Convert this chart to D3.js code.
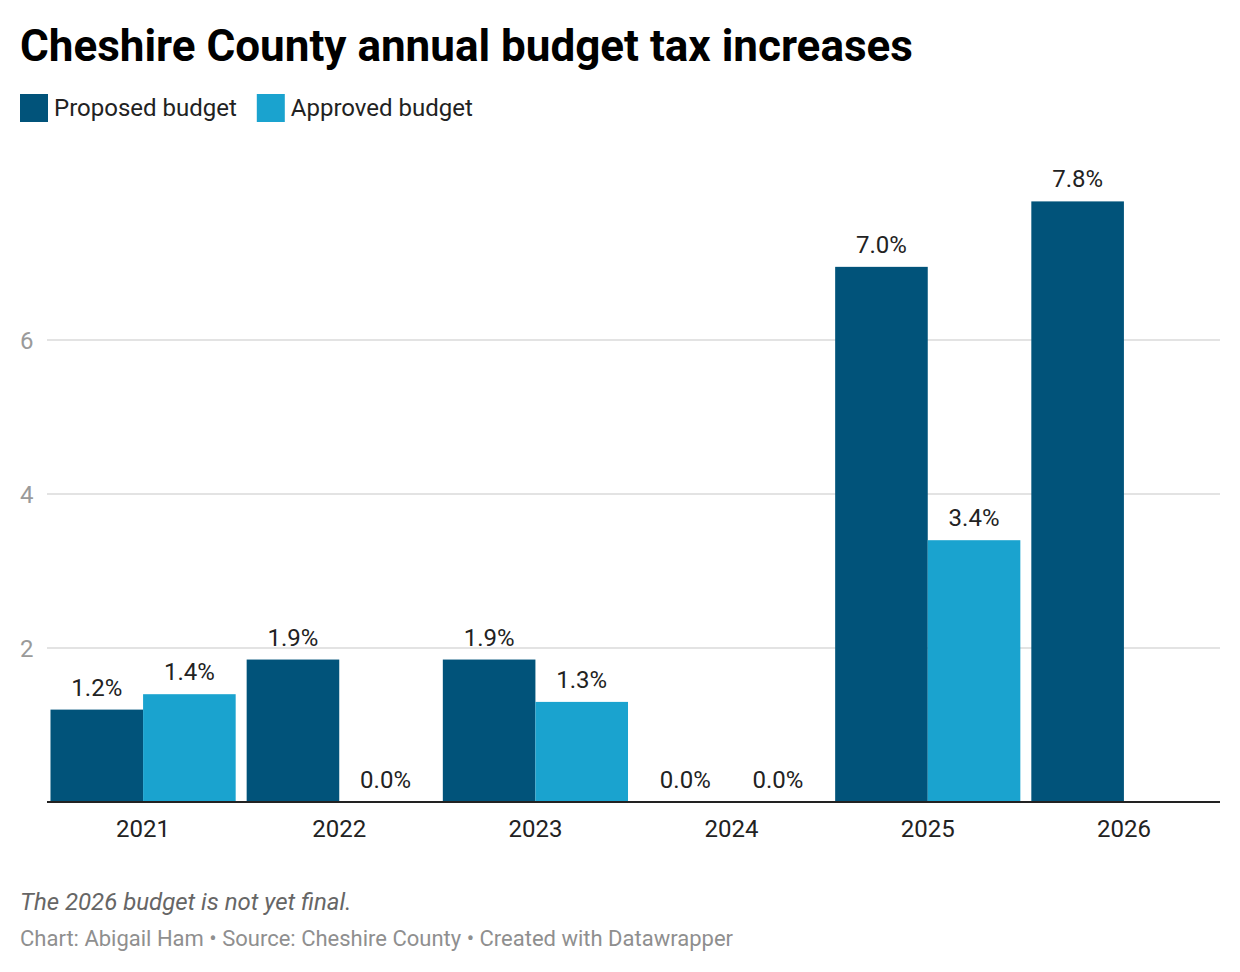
<!DOCTYPE html>
<html><head><meta charset="utf-8">
<script src="https://cdn.jsdelivr.net/npm/d3@7"></script>
<style>
body{margin:0;background:#fff;}
svg{display:block;font-family:Roboto, sans-serif;}
</style></head>
<body>
<script>
const years = ["2021","2022","2023","2024","2025","2026"];
const proposed = [1.2, 1.85, 1.85, 0, 6.95, 7.8];
const approved = [1.4, 0, 1.3, 0, 3.4, null];
const seriesNames = ["Proposed budget","Approved budget"];
const colors = ["#01537a","#1aa3cf"];
const yTicks = [2,4,6];
const title = "Cheshire County annual budget tax increases";
const note = "The 2026 budget is not yet final.";
const source = "Chart: Abigail Ham • Source: Cheshire County • Created with Datawrapper";

const W = 1240, H = 972;
const svg = d3.select("body").append("svg").attr("width", W).attr("height", H);

svg.append("text").attr("x", 20).attr("y", 61).attr("font-size", 44).attr("font-weight", 700)
  .attr("fill", "#000").text(title);

// legend
const leg = svg.append("g");
let lx = 20;
seriesNames.forEach((n, i) => {
  leg.append("rect").attr("x", lx).attr("y", 94).attr("width", 28).attr("height", 28).attr("fill", colors[i]);
  const t = leg.append("text").attr("x", lx + 34).attr("y", 116).attr("font-size", 24).attr("fill", "#222").text(n);
  lx += 34 + t.node().getComputedTextLength() + 20;
});

const x0 = 47, x1 = 1220, yBase = 802;
const x = d3.scaleBand().domain(years).range([45, 1222]).paddingInner(0.056).paddingOuter(0.028);
const xs = d3.scaleBand().domain([0,1]).range([0, x.bandwidth()]);
const y = d3.scaleLinear().domain([0, 1]).range([yBase, yBase - 77]);

const grid = svg.append("g");
yTicks.forEach(v => {
  grid.append("line").attr("x1", x0).attr("x2", x1).attr("y1", y(v)).attr("y2", y(v))
    .attr("stroke", "#e3e3e3").attr("stroke-width", 2);
  grid.append("text").attr("x", 20).attr("y", y(v) + 8.5).attr("font-size", 24).attr("fill", "#9a9a9a").text(v);
});

const fmt = d3.format(".1f");
const data = [];
years.forEach((yr, i) => {
  [proposed[i], approved[i]].forEach((v, s) => {
    if (v !== null && v !== undefined) data.push({yr, s, v});
  });
});

const g = svg.append("g");
g.selectAll("rect.bar").data(data).join("rect").attr("class","bar")
  .attr("x", d => x(d.yr) + xs(d.s))
  .attr("width", xs.bandwidth())
  .attr("y", d => y(d.v))
  .attr("height", d => yBase - y(d.v))
  .attr("fill", d => colors[d.s]);

g.selectAll("text.lbl").data(data).join("text").attr("class","lbl")
  .attr("x", d => x(d.yr) + xs(d.s) + xs.bandwidth()/2)
  .attr("y", d => y(d.v) - 14)
  .attr("text-anchor", "middle").attr("font-size", 24).attr("fill", "#222")
  .text(d => fmt(d.v) + "%");

svg.append("line").attr("x1", x0).attr("x2", x1).attr("y1", yBase).attr("y2", yBase)
  .attr("stroke", "#222").attr("stroke-width", 2);

const xAxis = svg.append("g").attr("transform", `translate(0,${yBase})`)
  .call(d3.axisBottom(x).tickSize(0).tickPadding(0));
xAxis.select(".domain").remove();
xAxis.selectAll("text").attr("font-size", 24).attr("fill", "#222").attr("font-family", "Roboto, sans-serif")
  .attr("dy", 0).attr("y", 34.5);

svg.append("text").attr("x", 20).attr("y", 910).attr("font-size", 24).attr("font-style", "italic")
  .attr("fill", "#666").text(note);
svg.append("text").attr("x", 20).attr("y", 946).attr("font-size", 22)
  .attr("fill", "#8f8f8f").text(source);
</script>
</body></html>
